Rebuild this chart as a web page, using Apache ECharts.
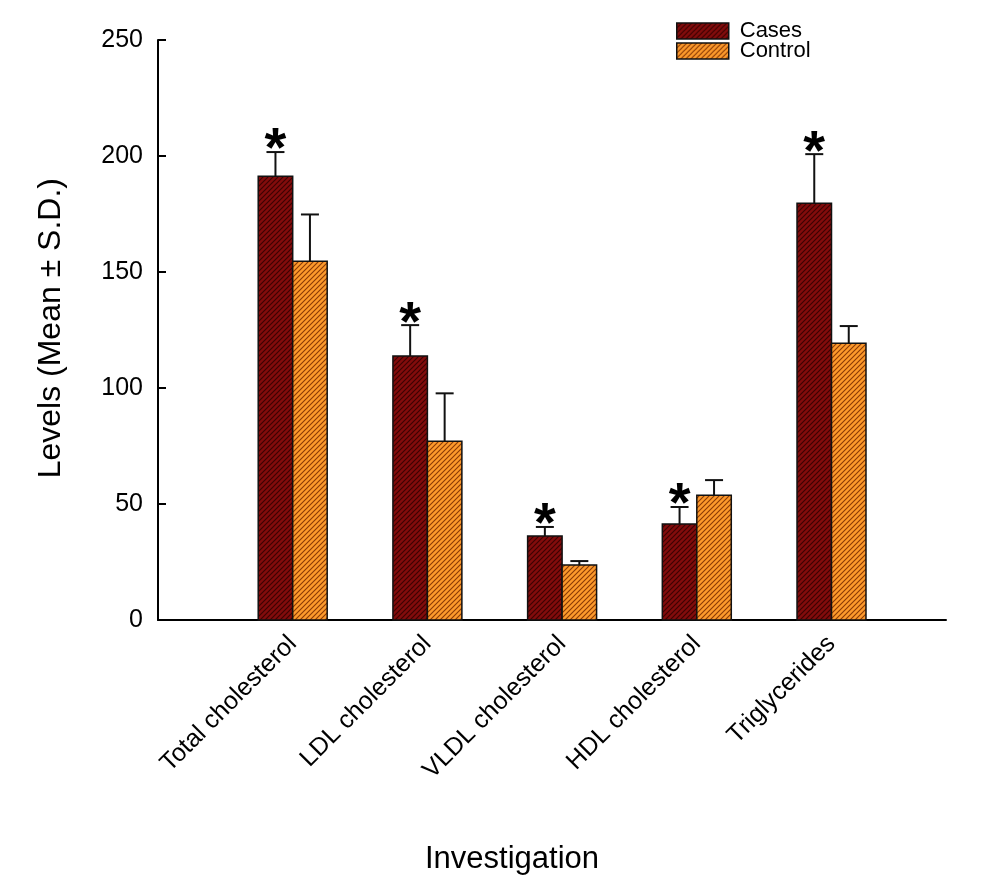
<!DOCTYPE html>
<html>
<head>
<meta charset="utf-8">
<script src="https://cdn.jsdelivr.net/npm/echarts@6/dist/echarts.min.js"></script>
<style>
html, body { margin: 0; padding: 0; background: #fff; }
#chart { width: 986px; height: 880px; }
</style>
</head>
<body>
<div id="chart"></div>
<script>
var categories = ['Total cholesterol', 'LDL cholesterol', 'VLDL cholesterol', 'HDL cholesterol', 'Triglycerides'];
var casesMean = [191.3, 113.8, 36.2, 41.4, 179.6];
var casesSD = [10.4, 13.3, 3.9, 7.3, 21.2];
var controlMean = [154.6, 77.1, 23.7, 53.8, 119.3];
var controlSD = [20.2, 20.6, 1.7, 6.5, 7.4];
var casesSig = [1, 1, 1, 1, 1];
var yTicks = [0, 50, 100, 150, 200, 250];

var FONT = 'Liberation Sans, Arial, sans-serif';
var BAR_W = 0.256; // bar width in x units

// diagonal hatch pattern
function hatch(bg, line) {
	var s = 5;
	var c = document.createElement('canvas');
	c.width = s;
	c.height = s;
	var ctx = c.getContext('2d');
	ctx.fillStyle = bg;
	ctx.fillRect(0, 0, s, s);
	ctx.strokeStyle = line;
	ctx.lineWidth = 1.1;
	ctx.beginPath();
	ctx.moveTo(-1, 1); ctx.lineTo(1, -1);
	ctx.moveTo(0, s); ctx.lineTo(s, 0);
	ctx.moveTo(s - 1, s + 1); ctx.lineTo(s + 1, s - 1);
	ctx.stroke();
	return { image: c, repeat: 'repeat' };
}

var casesFill = hatch('#820c0c', '#3a0303');
var controlFill = hatch('#fd9a2c', '#8a3a06');

function makeData(mean, sd, sig) {
	var out = [];
	for (var i = 0; i < mean.length; i++) {
		out.push([i + 1, mean[i], sd[i], sig ? sig[i] : 0]);
	}
	return out;
}

function renderGroup(side, fill) {
	return function (params, api) {
		var x = api.value(0), mean = api.value(1), sd = api.value(2), sig = api.value(3);
		var base = api.coord([x, 0]);
		var top = api.coord([x, mean]);
		var errTop = api.coord([x, mean + sd]);
		var w = api.size([BAR_W, 0])[0];
		var x0 = side < 0 ? base[0] - w : base[0];
		var cx = x0 + w / 2;
		var children = [{
			type: 'rect',
			shape: { x: x0, y: top[1], width: w, height: base[1] - top[1] },
			style: { fill: fill, stroke: '#111', lineWidth: 1.5 }
		}, {
			type: 'line',
			shape: { x1: cx, y1: top[1], x2: cx, y2: errTop[1] },
			style: { stroke: '#111', lineWidth: 2 }
		}, {
			type: 'line',
			shape: { x1: cx - 9, y1: errTop[1], x2: cx + 9, y2: errTop[1] },
			style: { stroke: '#111', lineWidth: 2 }
		}];
		if (sig) {
			children.push({
				type: 'text',
				style: {
					text: '*', x: cx, y: errTop[1] - 1,
					fill: '#000', font: 'bold 56px ' + FONT,
					align: 'center', verticalAlign: 'middle'
				}
			});
		}
		return { type: 'group', children: children };
	};
}

var chart = echarts.init(document.getElementById('chart'));

var option = {
	animation: false,
	backgroundColor: '#fff',
	grid: { left: 158, right: 40, top: 40, bottom: 260 },
	legend: {
		orient: 'vertical',
		left: 671,
		top: 15,
		itemWidth: 52,
		itemHeight: 16,
		itemGap: -2,
		textStyle: { fontFamily: FONT, fontSize: 22, lineHeight: 16, color: '#000', padding: [0, 0, 0, 6] },
		data: [
			{ name: 'Cases', icon: 'rect', itemStyle: { color: casesFill, borderColor: '#111', borderWidth: 1.5 } },
			{ name: 'Control', icon: 'rect', itemStyle: { color: controlFill, borderColor: '#111', borderWidth: 1.5 } }
		]
	},
	xAxis: {
		type: 'value',
		min: 0,
		max: 5.85,
		splitLine: { show: false },
		axisLine: { lineStyle: { color: '#000', width: 2 } },
		axisTick: { show: false },
		axisLabel: {
			customValues: [1, 2, 3, 4, 5],
			rotate: 45,
			margin: 20,
			padding: [12, 0, 0, 0],
			color: '#000',
			fontFamily: FONT,
			fontSize: 25,
			formatter: function (v) {
				return categories[Math.round(v) - 1] || '';
			}
		}
	},
	yAxis: {
		type: 'value',
		min: 0,
		max: 250,
		interval: 50,
		splitLine: { show: false },
		axisLine: { show: true, lineStyle: { color: '#000', width: 2 } },
		axisTick: { show: true, inside: true, length: 8, lineStyle: { color: '#000', width: 2 } },
		axisLabel: {
			margin: 15,
			color: '#000',
			fontFamily: FONT,
			fontSize: 25,
			formatter: function (v) {
				return yTicks.indexOf(v) >= 0 ? String(v) : '';
			}
		}
	},
	graphic: [{
		type: 'text',
		left: 35,
		top: 178,
		rotation: Math.PI / 2,
		style: { text: 'Levels (Mean \u00b1 S.D.)', font: '32px ' + FONT, fill: '#000' }
	}, {
		type: 'text',
		left: 425,
		top: 844,
		style: { text: 'Investigation', font: '31px ' + FONT, fill: '#000' }
	}],
	series: [{
		name: 'Cases',
		type: 'custom',
		renderItem: renderGroup(-1, casesFill),
		itemStyle: { color: '#820c0c' },
		encode: { x: 0, y: 1 },
		data: makeData(casesMean, casesSD, casesSig)
	}, {
		name: 'Control',
		type: 'custom',
		renderItem: renderGroup(1, controlFill),
		itemStyle: { color: '#fd9a2c' },
		encode: { x: 0, y: 1 },
		data: makeData(controlMean, controlSD, null)
	}]
};

chart.setOption(option);
</script>
</body>
</html>
